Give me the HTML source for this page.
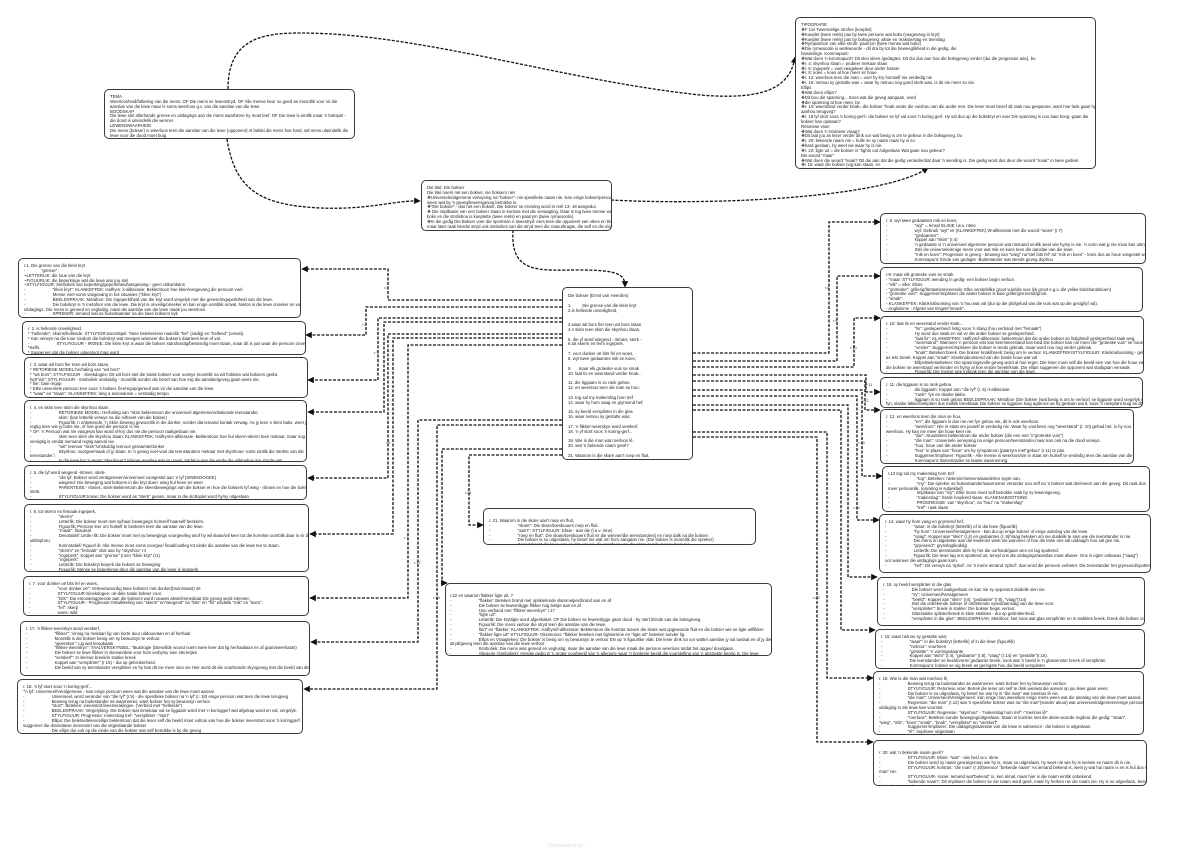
<!DOCTYPE html>
<html><head><meta charset="utf-8">
<style>
html,body{margin:0;padding:0;background:#fff;}
body{width:1200px;height:857px;position:relative;overflow:hidden;font-family:"Liberation Sans",sans-serif;}
svg{position:absolute;left:0;top:0;}
.b{position:absolute;box-sizing:border-box;border:1.6px solid #3a3a3a;border-radius:5px;background:#fff;font-size:4.3px;line-height:4.85px;padding:5px 5px;overflow:hidden;color:#222;white-space:nowrap;}
.b div{overflow:hidden;}
.i{padding-left:26px;}
.w{white-space:normal;}
.lab{position:absolute;font-size:4px;color:#333;}
</style></head><body>
<svg width="1200" height="857" viewBox="0 0 1200 857">
<defs><marker id="a" markerWidth="5" markerHeight="5" refX="4.5" refY="2.5" orient="auto"><path d="M0,0 L5,2.5 L0,5 z" fill="#111"/></marker></defs>
<g fill="none" stroke="#111" stroke-width="1.3" stroke-dasharray="3,1.5">
<path d="M228,89 C228,40 260,33 300,33 C420,33 560,80 700,95 C760,100 790,90 795,57" marker-end="url(#a)"/>
<path d="M227,139 C235,190 260,205 320,208 C370,210 395,200 420,201" marker-end="url(#a)"/>
<path d="M611,200 C700,205 880,200 928,168" marker-end="url(#a)"/>
<path d="M513,230 C510,275 540,270 580,270 C620,270 625,275 625,287" marker-end="url(#a)"/>
<!-- left connectors -->
<path d="M562,300 H388 V269 H302" marker-end="url(#a)"/>
<path d="M562,307 H366 V335 H306" marker-end="url(#a)"/>
<path d="M562,318 H378 V380 H308" marker-end="url(#a)"/>
<path d="M562,322 H384 V412 H308" marker-end="url(#a)"/>
<path d="M562,334 H388 V478 H308" marker-end="url(#a)"/>
<path d="M562,338 H393 V534 H310" marker-end="url(#a)"/>
<path d="M562,345 H408 V598 H310" marker-end="url(#a)"/>
<path d="M562,420 H418 V642 H311" marker-end="url(#a)"/>
<path d="M562,425 H437 V689 H304" marker-end="url(#a)"/>
<path d="M562,449 H442 V583 H447" marker-end="url(#a)"/>
<path d="M562,455 H469 V525 H483" marker-end="url(#a)"/>
<!-- right connectors -->
<path d="M693,353 H829 V222 H880" marker-end="url(#a)"/>
<path d="M693,361 H837 V276 H880" marker-end="url(#a)"/>
<path d="M693,367 H854 V318 H880" marker-end="url(#a)"/>
<path d="M693,375 H866 V392 H880" marker-end="url(#a)"/>
<path d="M693,381 H865 V410 H880" marker-end="url(#a)"/>
<path d="M693,390 H862 V476 H882" marker-end="url(#a)"/>
<path d="M693,396 H857 V520 H879" marker-end="url(#a)"/>
<path d="M693,405 H848 V577 H877" marker-end="url(#a)"/>
<path d="M693,410 H841 V630 H875" marker-end="url(#a)"/>
<path d="M693,432 H827 V678 H873" marker-end="url(#a)"/>
<path d="M693,437 H817 V742 H873" marker-end="url(#a)"/>
</g>
</svg>

<div class="lab" style="left:384px;top:285px">r.1</div>
<div class="lab" style="left:362px;top:322px">r.2</div>
<div class="lab" style="left:374px;top:350px">r.3</div>
<div class="lab" style="left:386px;top:440px">r.5</div>
<div class="lab" style="left:404px;top:535px">r.7</div>
<div class="lab" style="left:414px;top:560px">r.17</div>
<div class="lab" style="left:433px;top:595px">r.18</div>
<div class="lab" style="left:465px;top:490px">r.21</div>
<div class="lab" style="left:825px;top:285px">r.8</div>
<div class="lab" style="left:833px;top:318px">r.9</div>
<div class="lab" style="left:850px;top:345px">r.10</div>
<div class="lab" style="left:866px;top:382px">r.11</div>
<div class="lab" style="left:862px;top:398px">r.12</div>
<div class="lab" style="left:858px;top:440px">r.13</div>
<div class="lab" style="left:853px;top:505px">r.14</div>
<div class="lab" style="left:813px;top:595px">r.20</div>

<div class="b w" style="left:104px;top:89px;width:251px;height:50px">TEMA<br>Weerloosheid/fatlieting van die mens. OF Die mens se lewenstryd. OF Alle mense beur so goed as moontlik voor vir die aanslae van die lewe maar is soms weerloos g.v. van die aanslae van die lewe.<br>BOODSKAP<br>Die lewe stel allerhande grense en uitdagings aan die mens waarbinne hy moet leef. OF Die lewe is eintlik maar 'n bokspel - die dood is uiteindelik die wenner<br>LEWENSWAARHEID<br>Die mens (bokser) is weerloos teen die aanslae van die lewe (opponent) Al baklei die mens hoe hard, sal mens uiteindelik die lewe voor die dood moet buig</div>

<div class="b" style="left:795px;top:17px;width:301px;height:152px">TIPOGRAFIE<br>&#10070;F 11s Tweereëlige strofes (koeplet)<br>&#10070;Koeplet (twee reëls) pas by twee persone wat boks (vasgevang in kryt)<br>&#10070;Koeplet (twee reëls) pas by boksgeveg: aksie en reaksie/slag en teenslag<br>&#10070;Rympatroon van elke strofe: paarrym (twee mense wat boks)<br>&#10070;Die rymwoorde is werkwoorde - dit dra by tot die beweeglikheid in die gedig, die<br>handelinge. Kommapunt:<br>&#10070;Wat doen 'n kommapunt? Dit skei idees /gedagtes. Dit dui dus aan hoe die boksgeveg vorder (dui die progressie aan), bv.<br>&#10070;r. 4: skynhou slaan = probeer mekaar slaan<br>&#10070;r. 6: ingeperk = voel vasgekeer deur ander bokser<br>&#10070;r. 8: koes = koes al hoe meer vir houe<br>&#10070;r. 12: weerloos teen die man = voel hy kry homself nie verdedig nie<br>&#10070;r. 16: netnou sy gestalte was = waar hy netnou nog goed sterk was, is dit nie meer so nie.<br>Ellips<br>&#10070;Wat doen ellips?<br>&#10070;Dit bou die spanning... Soos wat die geveg aangaan, word<br>&#10070;die spanning al hoe meer, bv.<br>&#10070;r. 10: weerstand verder knak= die bokser "knak onder die vuishou van die ander een. Die leser moet besef dit raak nou gespanne, want hoe lank gaan hy kan<br>aanhou terugveg?<br>&#10070;r. 18 lyf stort soos 'n koring-gerf= die bokser se lyf val soos 'n koring gerf. Hy val dus op die bokskryt en voer Die spanning is nou baie hoog -gaan die<br>bokser kan opstaan?<br>Retoriese vrae:<br>&#10070;Wat doen 'n retoriese vraag?<br>&#10070;Dit laat jou as leser verder dink oor wat besig is om te gebeur in die boksgeveg, bv.<br>&#10070;r. 20: bekende naam nie = hulle se sy naam maar hy is so<br>&#10070;hard geslaan, hy weet nie waar hy is nie.<br>&#10070;r. 22: ligte uit = die bokser is "lights out /uitgeslaan Wat gaan nou gebeur?<br>Die woord "maar"<br>&#10070;Wat doen die woord "maar? Dit dui aan dat die gedig verander/dat daar 'n wending is. Die gedig word dus deur die woord "maar" in twee gedeel.<br>&#10070;r 15: waar die bokser nog kan staan, en<br>&#10070;r 20 waar die bokser die geveg begin verloor</div>

<div class="b" style="left:421px;top:180px;width:191px;height:51px">Die titel: Die bokser<br>Die titel noem net een bokser, nie boksers nie!<br>&#10070;Universele/algemene verwysing na "bokser"- nie spesifieke naam nie. Kan enige bokser/persoon<br>wees wat by 'n geveg/lewensgeveg betrokke is.<br>&#10070;"Die bokser" - dus net een bokser. Die bokser se ervaring word in reël 13- 18 aangedui.<br>&#10070; Die implikasie van een bokser staan in kontras met die verwagting. Daar is tog twee mense wat<br>boks en die strofebou is koeplette (twee reëls) en paarrym (twee rymwoorde).<br>&#10070;In die gedig Die Bokser voer die sportman n tweestryd: eers teen die opponent van vlees en bloed,<br>maar later raak hierdie stryd ook simbolies van die stryd teen die natuurkragte, die self en die dood.</div>

<div class="b" style="left:562px;top:287px;width:131px;height:173px;padding-top:6px">Die bokser (Ernst van Heerden)<br><br>1. &nbsp;&nbsp;&nbsp;&nbsp;&nbsp;&nbsp;&nbsp;&nbsp;Die grense van die klein kryt<br>2.is hellende onveiligheid,<br><br><br>3.waar wit bors fier teen wit bors staan<br>4.n skim teen skim die skynhou slaan,<br><br>5. die yf word wiegend - ritmies, sterk -<br>6.tot skerm en ferm ingeperk,<br><br>7. voor donker oë bits fel en woes,<br>8. wyl twee gedaantes mik en koes;<br><br>9. &nbsp;&nbsp;&nbsp;&nbsp;&nbsp;maar elk groteske vuis se smak<br>10. laat lis en weerstand verder knak...<br><br>11. die liggaam is so rank gebou<br>12. en weerloos teen die man se hou;<br><br>13. tog sal my makersfag hom tref<br>14. waar hy hom vaag en grynsend hef;<br><br>15. sy beeld versplinter in die glas<br>16. waar netnou sy gestalte was;<br><br>17. 'n flikker-weerskyn word verskerf,<br>18. 'n yf stort soos 'n koring-gerf...<br><br>19. Wie is die man wat roerloos lê,<br>20. wat 'n bekende naam gesê?<br><br>21. Waarom is die skare aan't roep en fluit,<br>22. en waarom flakker ligte uit...?</div>

<!-- left -->
<div class="b" style="left:18px;top:258px;width:283px;height:60px">r.1. Die grense van die klein kryt<br>- &nbsp;&nbsp;&nbsp;&nbsp;&nbsp;&nbsp;&nbsp;&nbsp;&nbsp;&nbsp;&nbsp;&nbsp;"grense"<br>~LETTERLIK: die toue van die kryt<br>~FIGUURLIK: die beperkinge wat die lewe aan jou stel<br>~STYLFIGUUR: Simboliek van beperking/geperktheid/vasgevang - geen uitkomkans<br>- <span class="i">"klein kryt": KLANKEFFEK: Halfrym: k-alliterasie: Beklemtoon hoe klein/vasgevang die persoon voel</span><br>- <span class="i">Mense voel soms vasgevang in hul situasies ("klein kryt")</span><br>- <span class="i">BEELDSPRAAK: Metafoor: Die ingeperktheid van die kryt word vergelyk met die grense/ingeperktheid van die lewe.</span><br>- <span class="i">Die bokskryt is 'n metafoor van die lewe. Die kryt is onveilig/onseker en kan enige oomblik omval. Nietos is die lewe onseker en vol</span><br>uitdagings. Die mens is geneed en vegluslig, maar die aanslae van die lewe maak jou weerloos<br>- <span class="i">SPREKER: Iemand wat as buitestaander na die twee boksers kyk</span></div>
<div class="b" style="left:22px;top:321px;width:284px;height:34px">r. 2. is hellende onveiligheid,<br>* "hellende": skuins/hellende. STYLFIGR:woordspel. Twee betekenisse naamlik "hel" (sadig) en "hellend" (omval).<br>* Kan verwys na die toue rondom die bokskryt wat meegee wanneer die boksers daarteen leun of val.<br>- <span class="i">STYLFIGUUR - IRONIE: Die klein kryt is waar die bokser standvastig/bestendig moet staan, maar dit is juis waar die persoon onveilig voel</span><br>*Selfs.<br>* Suggereer dat die bokser uitgestoot mag word</div>
<div class="b" style="left:24px;top:357px;width:284px;height:41px">r. 3. waar wit bors fier teen wit bors staan,<br>* RETORIESE MODEL:herhaling van "wit bors"<br>* "wit bors": STYLFIGUUR - Sinekdogee: Dit wit bors stel die totale bokser voor oorwys moontlik na wit frokkies wat boksers gedra<br>het/"wit": STYLFIGUUR - Simboliek onskuldig - moontlik sonder die besef van hoe erg die aanslae/geveg gaan wees nie.<br>* fier: baie regop<br>* Elke universele persoon tree soos 'n bokser, fier/regop/gereed aan vir die aanslae van die lewe.<br>* "waar" en "staan": KLANKEFFEK: lang a assonansie = verstadig tempo</div>
<div class="b" style="left:24px;top:400px;width:283px;height:62px">r. 4. en skim teen skim die skynhou slaan,<br>- <span class="i">RETORIESE MODEL: Herhaling van "skim beklemtoon die universeel algemene/onbekende teenstander.</span><br>- <span class="i">skim: (kan letterlik verwys na die silhoeet van die bokser)</span><br>- <span class="i">Figuurlik: n onbekende, 'n Skim beweeg gewoonlik in die donker, sonder dat iemand kontak verwag. As jy teen n skim baks, weet jy nie</span><br>regtig teen wie jy boks nie, of hoe goed die persoon is nie.<br>* OF: 'n Persoon wat nie vasgevat kan word nl-kry dus nie die persoon raakgeslaan nie.<br>- <span class="i">skim teen skim die skynhou slaan: KLANKEFFEK: Halfrym/s-alliterasie -Beklemtoon hoe hul skerm-skerm teen mekaar, maar nog</span><br>versigtig is omdat niemand regtig aanval nie.<br>- <span class="i">"wit" teenoor "skim"/onskuldig teenoor geraamte/donker</span><br>- <span class="i">Skynhou: voorgee/maak of jy slaan. In 'n geveg voel-voel die teenstanders mekaar met skynhoue- toets eintlik die sterkte van die</span><br>teenstander.\<br>- <span class="i">In die lewe kry 'n mens "skynhoue"/ Kleiner aanslae wat jou toets, totdat jy aan die einde die uitklophou kry. Einde van</span></div>
<div class="b" style="left:24px;top:465px;width:283px;height:35px">r. 5. die lyf word wiegend -ritmies, sterk-<br>- <span class="i">"die lyf: Bokser word veralgemeen/universeel voorgestel aan 'n lyf (SINEKDOGEE)</span><br>- <span class="i">wiegend: Die beweging wat boksers in die kryt doen: wieg hul heen en weer.</span><br>- <span class="i">PARENTESE:- ritmies, sterk-Beklemtoon die skeesbewegings van die bokser en hoe die boksers lyf wieg - ritmies en hoe die bokser se lyf lyk -</span><br>sterk.<br>- <span class="i">STYLFIGUUR:Ironie: Die bokser word as "sterk" gesien, maar in die slottoplet word hy/sy uitgeslaan.</span><br>- <span class="i">Die voorafskouer kyk na sy aanvalsgedrag van wat die teenstanders uitgeveg.</span></div>
<div class="b" style="left:24px;top:504px;width:285px;height:68px">r. 6. tot skerm en femaak ingeperk,<br>- <span class="i">"skerm"</span><br>- <span class="i">Letterlik: Die bokser moet met sy/haar bewegings homself haarself beskerm.</span><br>- <span class="i">Figuurlik: Persone leer om hulself te beskerm teen die aanslae van die lewe.</span><br>- <span class="i">"maak": finauteal</span><br>- <span class="i">Denotatief/ Lettle rlik: Die bokser moet met sy bewegings voorgee/leg asof hy wil slaan/wil keer tot die korrekte oomblik daar is vir die</span><br>uitklophou.<br>- <span class="i">Konnotatief/ Figuurl ik: Alle mense moet soms voorgee/ finaal/ooitleg tot einde die aanslae van die lewe tee te staan.</span><br>- <span class="i">"skerm" en "femaak" sluit aan by "skynhou" r4</span><br>- <span class="i">"ingeperk": Koppel aan "grense" (r1en "klein kryt" (r1)</span><br>- <span class="i">"ingeperk":</span><br>- <span class="i">Letterlik: Die bokskryt beperk die bokser se beweging</span><br>- <span class="i">Figuurlik: Mense se beperkinge deur die aanslae van die lewe is ingeperk</span></div>
<div class="b" style="left:23px;top:576px;width:286px;height:40px">r. 7. voor donker oë bits fel en woes,<br>- <span class="i">"voor donker oë": Verteenwoordig twee boksers met donker(bruin/swart) oë</span><br>- <span class="i">STYLFIGUUR-Sinekdogee: oë-dele totale bokser voor.</span><br>- <span class="i">"bits": Dui emosie/aggressie aan die boksers word nouwes aksei/immediaat Die geveg word intenser.</span><br>- <span class="i">STYLFIGUUR - Progressie:Ontwikkeling van "skerm" en"wiegend" na "bits" en "fel" eindelik "mik" en "koes".</span><br>- <span class="i">"fel": skerp</span><br>- <span class="i">woes: wild</span></div>
<div class="b" style="left:20px;top:621px;width:290px;height:55px">r. 17. 'n flikker-weerskyn word verskerf,<br>- <span class="i">"flikker": 'vinnig na mekaar/ lig van korte duur uitdoue/aan en af herhaal</span><br>- <span class="i">Moontlik is die bokser besig om sy bewussyn te verloor.</span><br>- <span class="i">"weerskyn": Lig wat terugkaats</span><br>- <span class="i">"flikker-weerskyn": TAALVERSKYNSEL: Tautologie (Dieselfde woord noem twee keer dat lig herhaaliaan en af gaan/weerkaats)</span><br>- <span class="i">Die bokser se lewe flikker in skerwe/dele voor hom verby/sy sien sterretjies</span><br>- <span class="i">"verskerf": In skerwe breek/in stukke breek</span><br>- <span class="i">Koppel aan "versplinter" (r 15) - dui op gebrokenheid.</span><br>- <span class="i">Die beeld van sy teenstander versplinter en hy kan dit nie meer sien nie Hier word dit die voorbrande skyngeveg met die beeld van die self in die</span></div>
<div class="b" style="left:17px;top:679px;width:286px;height:55px">r. 18. 'n lyf stort soos 'n koring-gerf...<br>"'n lyf: Universeel/Veralgemeen - kan enige persoon wees wat die aanslae van die lewe moet aanval.<br>- <span class="i">Universeel, word verander van "die lyf" (r.5) - die spesifieke bokser na 'n lyf' (r. 18) enige persoon wat teen die lewe terugveg</span><br>- <span class="i">Beweeg terug na buitestander as waarnemer, want bokser het sy bewussyn verloor.</span><br>- <span class="i">"stort": Beteken: ineenstort/ineenssakingee. (Verbind met "hellende")</span><br>- <span class="i">BEELDSPRAAK: Vergelyking- Die bokser wat inmekaar val se liggaam word met 'n koringgerf wat afgekap word en val, vergelyk.</span><br>- <span class="i">STYLFIGUUR: Progressie: mekerslag tref- "versplinter -"stort"</span><br>- <span class="i">Ellips: Die beletselteken/ellips beklemtoon dat die leser self die beeld moet voltooi van hoe die bokser ineenstort soos 'n koringgerf. Dit</span><br>suggereer die dramatiese ineenstort van die uitgeslaande bokser<br>- <span class="i">Die ellips dui ook op die einde van die bokser wat self betrokke is by die geveg</span></div>

<div class="b" style="left:483px;top:508px;width:273px;height:37px;padding-top:10px">r. 21. Waarom is die skare aan't roep en fluit,<br>- <span class="i">"skare": Die skare/toeskouers roep en fluit.</span><br>- <span class="i">"aan't": STYLFIGUUR: Elisie - aan die (l a v. rime)</span><br>- <span class="i">"roep en fluit": Die skare/toeskouers fluit vir die wenner/die teenstanders) en roep dalk na die bokser.</span><br>- <span class="i">Die bokser is so uitgeslaan, hy besef nie wat om hom aangaan nie. (Die bokser is moontlik die spreker)</span><br>- <span class="i">Sons "skare" die lewe ons so dat ons nie die roepfoep van die skare tende mense hoor nie</span></div>
<div class="b" style="left:445px;top:583px;width:327px;height:73px;padding-top:10px;padding-left:4px">r.22 en waarom flakker ligte uit..?<br>- <span class="i">"flakker: Beteken brand met opskietende vlammetjies/brand aan en af</span><br>- <span class="i">Die bokser se lewensligge flikker nog bietjie aan en af</span><br>- <span class="i">Hou verband met "flikker-weerskyn" r.17</span><br>- <span class="i">"ligte uit":</span><br>- <span class="i">Letterlik: Die kryttigte word afgeskakel. OF Die bokser se lewensligge gaan dood - hy sterf./Einde van die boksgeveg.</span><br>- <span class="i">Figuurlik: Die mens verloor die stryd teen die aanslae van die lewe.</span><br>- <span class="i">flurt" en "flakker: KLANKEFFEK: Halfrym/f-alliterasie: Beklemtoon die kontras tussen die skare wat opgewonde fluit en die bokser wie se ligte uitflikker.</span><br>- <span class="i">"flakker ligte uit" STYLFIGUUR- Oksimoron: "flakker beteken met lig/vlamme en "ligte uit" beteken sonder lig.</span><br>- <span class="i">Ellips en Vraagteken: Die bokser is besig om sy bewussyn te verloor EN op 'n figuurlike vlak: Die leser dink na oor watter aanslae jy sal toelaat en of jy die</span><br>stryd/geveg teen die aanslae van die lewe verloor.<br>- <span class="i">Simboliek: Die mens was gereed en veglustig, maar die aanslae van die lewe maak die persoon weerloos totdat hul opgee/ doodgaan.</span><br>- <span class="i">Allegorie (Simboliek): Hierdie gedig is 'n groter voorbeeld van 'n allegorie waar 'n konkrete beeld die voorstelling van 'n abstrakte begrip is. Die lewe</span><br>is maar eintlik 'n boksgeveg en die dood die uiteindelike wenner. Die hele gedig is 'n allegorie van die mens se stryd op aarde</div>

<!-- right -->
<div class="b" style="left:880px;top:213px;width:266px;height:51px">r. 8. wyl twee gedaantes mik en koes;<br>- <span class="i">"wyl" = terwyl ELISIE l.w.v. ritme</span><br>- <span class="i">wyl: Gebruik "wyl" vir (KLANKEFFEK) W-alliterasie met die woord "woes" (r.7)</span><br>- <span class="i">"gedaantes":</span><br>- <span class="i">koppel aan "skim" (r.4)</span><br>- <span class="i">'n gedaante is 'n universeel algemene persoon wat niemand eintlik weet wie hy/sy is nie. 'n vorm wat jy nie mooi kan uitmaak nie.</span><br>- <span class="i">Stel die universele/enige mens voor wat mik en koes teen die aanslae van die lewe.</span><br>- <span class="i">"mik en koes": Progressie in geveg - beweeg van "wieg" na"stel bits fel" tot "mik en koes" - koes dus as houe vasgestel word.</span><br>- <span class="i">Kommapunt: Einde van gedagte -Buitestander wat steeds geveg dophou</span></div>
<div class="b" style="left:880px;top:267px;width:263px;height:45px">r.9: maar elk groteske vuis se smak<br>- "maar: STYLFIGUUR: wending in gedig- een bokser begin verloor.<br>- "elk" = elke: Elisie<br>- "groteske": grillerig/fantasties/vreemde: Elke verskriklike groot vuis/die vuis lyk groot e.g.v. die yslike bokshandskoen)<br>- "groteske vuis": Suggereer/Impliseer die ander bokser is baie grillerig/vreemd/groot.<br>- "smak":<br>- KLANKEFFEK: Klanknabootsing van 'n hou wat val (dui op die plofgeluid van die vuis wat op die gesig/lyf val).<br>- Anglisisme - Afgelei van Engels"smack".</div>
<div class="b" style="left:880px;top:316px;width:264px;height:58px">r. 10: laat lis en weerstand verder knak...<br>- <span class="i">"lis": geslepenheid: listig soos 'n slang (hou verband met "femaak")</span><br>- <span class="i">Hy word dus swak en val vir die ander bokser se geslepenheid.</span><br>- <span class="i">"laat lis": KLANKEFFEK: Halfrym/l-alliterasie: beklemtoon dat die ander bokser se listigheid/ geslepenheid raak weg.</span><br>- <span class="i">"weerstand": Wanneer 'n persoon iets kan keer/weerstand kan bied.Die bokser kan nie meer die "groteske vuis" se houe keer nie.</span><br>- <span class="i">"verder": Suggereer/Impliseer die bokser is reeds geknak, maar word nou nog verder geknak.</span><br>- <span class="i">"knak": Beteken:breek. Die bokser knak/breek: besig om te verloor. KLANKEFFEK/STYLFIGUUR: Klanknabootsing - geluid</span><br>as iets breek. Koppel aan "smak": Klanknabootsend van die harde houe wat val<br>- <span class="i">Ellips/Beletselteken: Die spanningsvolle geveg word al hoe erger. Die leser moet self die beeld sien van hoe die houe val en</span><br>die bokser se weerstand verminder en hy/sy al hoe verder breek/knak. Die ellips suggereer die opponent wat stadigaan verswak<br>- <span class="i">Figuurlik: Die mense gee in/knak teen die aanslae van die lewe.</span></div>
<div class="b" style="left:880px;top:377px;width:263px;height:31px">r. 11. die liggaam is so rank gebou<br>- <span class="i">die liggaam: Koppel aan "die lyf" (r. 5) rl-alliterasie.</span><br>- <span class="i">"rank": fyn en slanke lakke.</span><br>- <span class="i">liggaam is so rank gebou BEELDSPRAAK: Metafoor (Die bokser (wat besig is om te verloor) se liggaam word vergelyk met 'n</span><br>fyn, slanke lakke/rankplant dus maklik breekbaar Die bokser se liggaam buig agteroor as hy geslaan word, soos 'n rankplant buig as dit</div>
<div class="b" style="left:880px;top:409px;width:254px;height:55px">r. 12. en weerloos teen die man se hou,<br>- <span class="i">"en": die liggaam is dus nie net fyn gebou nie, dit is ook weerloos.</span><br>- <span class="i">"weerloos": Nie in staat om jouself te verdedig nie. Waar hy voorheen nog "weerstand" (r. 10) gehad het, is hy nou</span><br>weerloos. Hy kan nie meer die houe keer nie.<br>- <span class="i">"die": Akuutteken beklemtoon die ander bokser (die een met 'n"groteske vuis")</span><br>- <span class="i">"die man": Universele verwysing na enige persoon/teenstander,maar kan ook na die dood verwys.</span><br>- <span class="i">"hou: houe van die ander bokser</span><br>- <span class="i">"hou" in plaas van "houe" om by rympatroon (paarrym met"gebou" (r.11) te pas.</span><br>- <span class="i">Suggereer/Impliseer: Figuurlik - Alle mense is weerloos/nie in staat om hulself te verdedig teen die aanslae van die lewe nie.</span><br>- <span class="i">Kommapunt: Buitestander se laaste waarneming.</span></div>
<div class="b" style="left:882px;top:466px;width:268px;height:46px">r.13 tog sal my makerslag hom tref<br>- <span class="i">"tog": Beteken: nietemin/nieteenstaande/ten spyte van.</span><br>- <span class="i">"my": Die spreker as buitestaander/waarnemer verander nou self na 'n bokser wat deelneem aan die geveg. Dit raak dus</span><br>meer persoonlik. (ervaring is subjektief)<br>- <span class="i">Implikasie van "my": Elke mens moet self betrokke raak by sy lewensgeveg.</span><br>- <span class="i">"makerslag": harde hou/kerd slaan. KLANKNABOOTSING</span><br>- <span class="i">PROGRESSIE: van "skynhou", na "hou" na "makerslag"</span><br>- <span class="i">"tref": raak slaan</span></div>
<div class="b" style="left:879px;top:514px;width:272px;height:59px">r. 14. waar hy hom vaag en grynsend hef,<br>- <span class="i">"waar: in die bokskryt (letterlik) of in die lewe (figuurlik)</span><br>- <span class="i">"hy hom": Universeel/Veralgemeen - kan dui op enige bokser of enige aanslag van die lewe.</span><br>- <span class="i">"vaag": Koppel aan "skim" (r.4) en gedaantes (r. 8)/Vaag beteken om nie duidelik te sien wie die teenstander is nie.</span><br>- <span class="i">Die mens is uitgelewer aan die lewe/ons weet nie wanneer of hoe die lewe ons sal uitdaag/n hou sal gee nie.</span><br>- <span class="i">"grynsend": grynslag/koddig</span><br>- <span class="i">Letterlik: Die teenstander dink hy het die oorhand/gaan wen en lag spottend.</span><br>- <span class="i">Figuurlik: Die lewe lag ons spottend uit, terwyl ons die uitdagings/aanslae moet afweer. Ons is egter onbewus ("vaag")</span><br>oor wanneer die uitdagings gaan kom.<br>- <span class="i">"hef": Dit verwys na 'ophof'. As 'n mens iemand 'ophof', dan word die persoon verbeter. Die teenstander het grynsend/spottend</span></div>
<div class="b" style="left:877px;top:577px;width:268px;height:49px">r. 15. sy beeld versplinter in die glas<br>- <span class="i">Die bokser word raakgeslaan en kan nie sy opponent duidelik sien nie.</span><br>- <span class="i">"sy": Universeel/Veralgemeen</span><br>- <span class="i">"beeld": Koppel aan "skim" (r4), "gedaante" (r.8), "vaag"(r14)</span><br>- <span class="i">Stel die onbekende bokser of onbekende vyand/aanslag van die lewe voor.</span><br>- <span class="i">"versplinter": breek in stukke: Die bokser begin verloor.</span><br>- <span class="i">Glasstukke splinter/breek in klein stukkies - dui op gebrokenheid.</span><br>- <span class="i">"versplinter in die glas": BEELDSPRAAK: Metafoor: Net soos wat glas versplinter en in stukkies breek, breek die bokser onder die</span></div>
<div class="b" style="left:875px;top:629px;width:270px;height:40px">r. 16: waar netnou sy gestalte was;<br>- <span class="i">"waar": in die bokskryt (letterlik) of in die lewe (figuurlik)</span><br>- <span class="i">"netnou": voorheen</span><br>- <span class="i">"gestalte": 'n vorm/gedaante</span><br>- <span class="i">Koppel aan "skim" (r.4), "gedaante" (r.8), "vaag" (r.14) en "gestalte"(r.16).</span><br>- <span class="i">Die teenstander se beeld/vorm/ gedaante breek, soos wat 'n beeld in 'n glasvenster breek of versplinter.</span><br>- <span class="i">Kommapunt: bokser se sig breek as geringste hou die beeld versplinter</span></div>
<div class="b" style="left:873px;top:671px;width:271px;height:64px">r. 19. Wie is die man wat roerloos lê,<br>- <span class="i">Beweeg terug na buitestander as waarnemer, want bokser het sy bewussyn verloor.</span><br>- <span class="i">STYLFIGUUR: Retoriese vrae: Betrek die leser om self te dink wie/wat die aanval op jou lewe gaan wees.</span><br>- <span class="i">Die bokser is so uitgeslaan, hy besef nie wie hy is "die man" wat roerloos lê nie.</span><br>- <span class="i">"die man": Universeel/Veralgemeen: kan enige man wees/kan enige mens wees wat die aanslag van die lewe moet aanval.</span><br>- <span class="i">Regressie: "die man" (r.12) wat 'n spesifieke bokser was na "die man"(sonder akuut) wat universeel/algemeen/enige persoon of</span><br>uitdaging in die lewe kan voorstel.<br>- <span class="i">STYLFIGUUR: Regressie: "skynhou" - "makerslag hom tref" -"roerloos lê"</span><br>- <span class="i">"roerloos": Beteken sonder beweging/uitgeslaan. Staan in kontras met die aksie-woorde regdeur die gedig: "staan",</span><br>"wieg", "mik", "koes","smak", "knak", "versplinter" en "verskerf".<br>- <span class="i">Suggereer/Impliseer: Die uitdagings/aanslae van die lewe is suksesvol - die bokser is uitgeslaan.</span><br>- <span class="i">"lê": Impliseer uitgeslaan</span></div>
<div class="b" style="left:873px;top:740px;width:274px;height:46px;padding-top:10px">r. 20: wat 'n bekende naam gesê?<br>- <span class="i">STYLFIGUUR: Elisie: "wat" - wie het,l.w.v. ritme</span><br>- <span class="i">Die bokser word sy naam gevra/geroep wie hy is, maar so uitgeslaan, hy weet nie wie hy is nie/wie se naam dit is nie.</span><br>- <span class="i">STYLFIGUUR: kontras: "die man" (r 20)teenoor "bekende naam" As iemand bekend is, weet jy wat hul naam is en is hul dus nie net "die</span><br>man" nie.<br>- <span class="i">STYLFIGUUR- Ironie: Iemand wat"bekend" is, ken almal, maar hier is die naam eintlik onbekend.</span><br>- <span class="i">"bekende naam": Dit impliseer die bokser se eie naam word gesê, maar hy herken nie die naam nie. Hy is so uitgeslaan, besef</span><br>nie hul praat van hom nie.</div>

<div style="position:absolute;left:548px;top:843px;font-size:5px;color:#ddd">Downloaded by ...</div>
</body></html>
